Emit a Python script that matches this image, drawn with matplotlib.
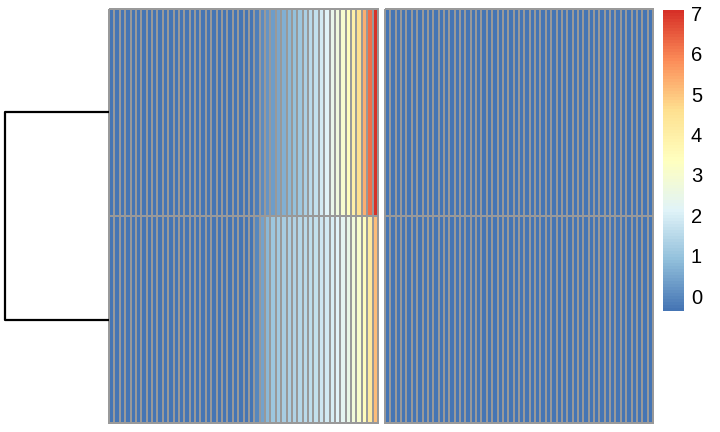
import matplotlib
matplotlib.use("Agg")
import matplotlib.pyplot as plt
import numpy as np
from matplotlib.colors import LinearSegmentedColormap, Normalize
from matplotlib.cm import ScalarMappable

plt.rcParams['font.family'] = ['Liberation Sans', 'DejaVu Sans']

# values, 2 rows x 100 columns (50 left block, 50 right block)
row1_left = [-0.37] * 26 + [-0.3, -0.15, 0.05, 0.2, 0.35, 0.5, 0.65, 0.8, 0.95, 1.1,
                            1.3, 1.5, 1.7, 1.9, 2.15, 2.4, 2.7, 3.0, 3.4, 4.0,
                            4.6, 5.3, 6.2, 7.08]
row2_left = [-0.37] * 27 + [0.0, 0.4, 0.8, 1.05, 1.15, 1.25, 1.3, 1.4, 1.45, 1.55,
                            1.6, 1.7, 1.8, 1.9, 2.0, 2.15, 2.3, 2.5, 2.8, 3.1,
                            3.5, 4.2, 5.1]
row1_right = [-0.37] * 50
row2_right = [-0.37] * 50
legend_ticks = [0, 1, 2, 3, 4, 5, 6, 7]

# pheatmap default palette: rev(brewer RdYlBu 7) ramped to 100
pal = ["#4575B4", "#91BFDB", "#E0F3F8", "#FFFFBF", "#FEE090", "#FC8D59", "#D73027"]
cmap = LinearSegmentedColormap.from_list("rdylbu_r", pal, N=100)

left = np.array([row1_left, row2_left])
right = np.array([row1_right, row2_right])
allv = np.hstack([left, right])
norm = Normalize(vmin=allv.min(), vmax=allv.max())

W, H = 720, 432
fig = plt.figure(figsize=(W / 100, H / 100), dpi=100)

def box(x0, y0, x1, y1):
    return [x0 / W, 1 - y1 / H, (x1 - x0) / W, (y1 - y0) / H]

edge = "#999999"
for data, pos in [(left, box(109, 9, 378, 423)), (right, box(385, 9, 653, 423))]:
    ax = fig.add_axes(pos)
    m = ax.pcolormesh(data, cmap=cmap, norm=norm, edgecolors=edge, linewidth=1.1)
    m.set_clip_on(False)
    ax.set_xlim(0, data.shape[1])
    ax.set_ylim(data.shape[0], 0)
    ax.axis("off")

# row dendrogram (two rows joined at their euclidean distance)
dist = np.sqrt(((left[0] - left[1]) ** 2).sum() + ((right[0] - right[1]) ** 2).sum())
axd = fig.add_axes(box(5, 9, 109, 423))
centers = [0.5, 1.5]
axd.plot([0, dist, dist, 0], [centers[0], centers[0], centers[1], centers[1]],
         color="black", lw=1.6, solid_capstyle="butt", clip_on=False)
axd.set_xlim(dist, 0)
axd.set_ylim(2, 0)
axd.axis("off")

# legend
axc = fig.add_axes(box(663, 10, 684, 311))
cb = fig.colorbar(ScalarMappable(norm=norm, cmap=cmap), cax=axc)
cb.outline.set_visible(False)
cb.set_ticks(legend_ticks)
axc.tick_params(length=0, pad=5, labelsize=14.5)

fig.savefig("out.png", dpi=100)
